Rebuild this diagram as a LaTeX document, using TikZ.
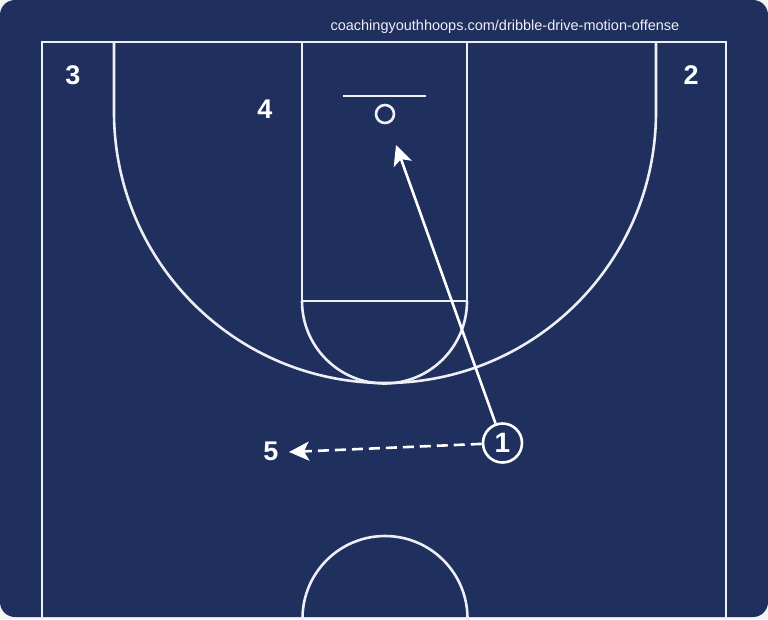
\documentclass[tikz,border=0pt]{standalone}
\usepackage{fontspec}
\setmainfont{Liberation Sans}
\usetikzlibrary{arrows.meta}
\definecolor{navy}{HTML}{20305E}
\definecolor{courtline}{HTML}{EEEFF4}
\definecolor{pagebg}{HTML}{F4F4F6}
\tikzset{
  court/.style={draw=courtline, line width=2.6pt},
  player/.style={text=white, font=\bfseries\fontsize{27}{27}\selectfont, inner sep=0pt},
  ballhandler/.style={draw=white, line width=2.6pt, circle, minimum size=39pt, inner sep=0pt, text=white, font=\bfseries\fontsize{28}{28}\selectfont},
  move/.style={draw=white, line width=2.6pt, -{Stealth[length=20pt,width=19pt,inset=5pt]}},
  pass/.style={move, dash pattern=on 11pt off 6pt}
}
\begin{document}
\begin{tikzpicture}[x=1pt,y=-1pt]
\useasboundingbox (0,0) rectangle (768,619);
\fill[pagebg] (0,0) rectangle (768,619);
\fill[navy, rounded corners=15pt] (0,0) rectangle (768,617);
\begin{scope}
\clip (0,0) rectangle (768,619);
% boundary
\draw[court] (42,640) -- (42,42) -- (726,42) -- (726,640);
% three point line
\draw[court] (114,42) -- (114,112) arc[start angle=180, end angle=0, radius=271] -- (656,42);
% lane
\draw[court] (302,42) -- (302,301) -- (467,301) -- (467,42);
% free throw half circle
\draw[court] (302,301) arc[start angle=180, end angle=0, radius=82.5];
% backboard and rim
\draw[court] (343,96) -- (426,96);
\draw[court] (385,114) circle[radius=9];
% center circle
\draw[court] (385,618.5) circle[radius=82.5];
\end{scope}
\node[text=courtline, font=\fontsize{14.5}{15}\selectfont, anchor=west] (url) at (327,27) {coachingyouthhoops.com/dribble-drive-motion-offense};
\node[player] (p3) at (73,75) {3};
\node[player] (p2) at (691,75) {2};
\node[player] (p4) at (265,109) {4};
\node[player] (p5) at (271,451) {5};
\node[ballhandler] (p1) at (502.5,443) {1};
\coordinate (drive) at (396,145);
\coordinate (passend) at (289,452);
\draw[move] (p1) -- (drive);
\draw[pass] (p1) -- (passend);
\end{tikzpicture}
\end{document}
